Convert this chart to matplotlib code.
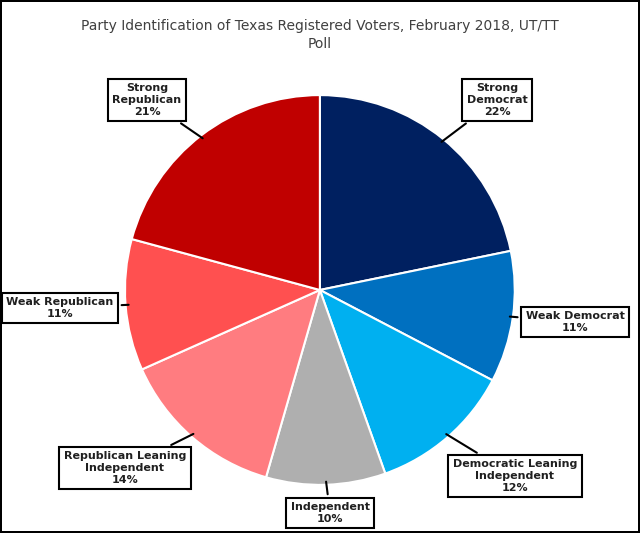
import matplotlib.pyplot as plt
import numpy as np

labels = ["Strong\nDemocrat\n22%", "Weak Democrat\n11%", "Democratic Leaning\nIndependent\n12%",
          "Independent\n10%", "Republican Leaning\nIndependent\n14%", "Weak Republican\n11%",
          "Strong\nRepublican\n21%"]
values = [22, 11, 12, 10, 14, 11, 21]
colors = ["#002060", "#0070C0", "#00B0F0", "#AFAFAF", "#FF7C80", "#FF5050", "#C00000"]
label_pos = [(497, 100), (575, 322), (515, 476), (330, 513), (125, 468), (60, 308), (147, 100)]

fig = plt.figure(figsize=(6.4, 5.33), dpi=100)
fig.patch.set_edgecolor("black"); fig.patch.set_linewidth(1.5)
ax = fig.add_axes([0.1953, 0.0901, 0.609, 0.7317])
wedges, _ = ax.pie(values, colors=colors, startangle=90, counterclock=False,
                   wedgeprops=dict(edgecolor="white", linewidth=1.5), radius=1)
ax.set_xlim(-1, 1); ax.set_ylim(-1, 1); ax.set_aspect("equal")
for w, lab, (px, py) in zip(wedges, labels, label_pos):
    ang = np.deg2rad((w.theta1 + w.theta2) / 2)
    xy = (0.97 * np.cos(ang), 0.97 * np.sin(ang))
    ax.annotate(lab, xy=xy, xytext=(px, 533 - py), textcoords="figure pixels",
                ha="center", va="center", fontsize=8, fontweight="bold", color="#202020",
                bbox=dict(boxstyle="square,pad=0.4", fc="white", ec="black", lw=1.5),
                arrowprops=dict(arrowstyle="-", color="black", lw=1.5), annotation_clip=False)
fig.text(0.5, 0.965, "Party Identification of Texas Registered Voters, February 2018, UT/TT\nPoll",
         ha="center", va="top", fontsize=10, color="#404040", linespacing=1.4)
fig.savefig("out.png", dpi=100, edgecolor=fig.get_edgecolor())
